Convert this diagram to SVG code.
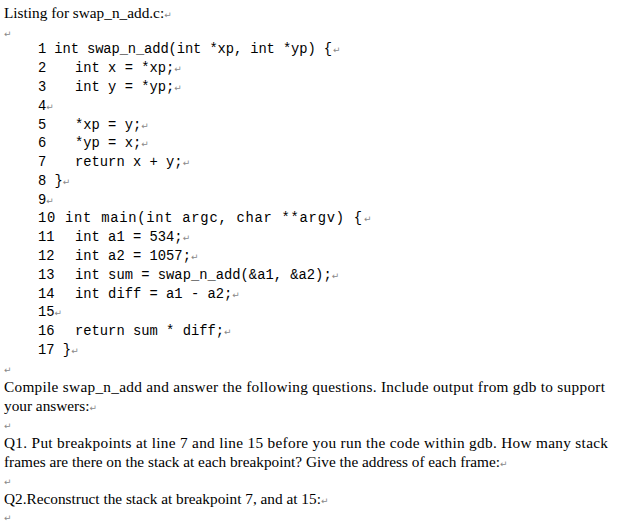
<svg xmlns="http://www.w3.org/2000/svg" width="622" height="525" viewBox="0 0 622 525">
<style>
.t{font-family:"Liberation Serif",serif;font-size:15.3px;fill:#000}
.c{font-family:"Liberation Mono","DejaVu Sans Mono",monospace;font-size:13.8px;fill:#000}
.p{font-family:"DejaVu Sans",sans-serif;font-size:9px;fill:#888}
</style>
<rect width="622" height="525" fill="#fff"/>
<g id="header">
<text class="t" x="4" y="18">Listing for swap_n_add.c:<tspan class="p">↵</tspan></text>
<text class="p" x="4" y="37">↵</text>
</g>
<g id="code" class="c">
<text x="38" y="53" textLength="294">1 int swap_n_add(int *xp, int *yp) {</text><text class="p" x="333" y="53">↵</text>
<text x="38" y="72">2</text><text x="75" y="72">int x = *xp;<tspan class="p">↵</tspan></text>
<text x="38" y="91">3</text><text x="75" y="91">int y = *yp;<tspan class="p">↵</tspan></text>
<text x="38" y="110">4<tspan class="p">↵</tspan></text>
<text x="38" y="129">5</text><text x="75" y="129">*xp = y;<tspan class="p">↵</tspan></text>
<text x="38" y="147">6</text><text x="75" y="147">*yp = x;<tspan class="p">↵</tspan></text>
<text x="38" y="166">7</text><text x="75" y="166">return x + y;<tspan class="p">↵</tspan></text>
<text x="38" y="185">8 }<tspan class="p">↵</tspan></text>
<text x="38" y="204">9<tspan class="p">↵</tspan></text>
<text x="38" y="222" textLength="324">10 int main(int argc, char **argv) {</text><text class="p" x="364" y="222">↵</text>
<text x="38" y="241">11</text><text x="75" y="241">int a1 = 534;<tspan class="p">↵</tspan></text>
<text x="38" y="260">12</text><text x="75" y="260">int a2 = 1057;<tspan class="p">↵</tspan></text>
<text x="38" y="279">13</text><text x="75" y="279">int sum = swap_n_add(&amp;a1, &amp;a2);<tspan class="p">↵</tspan></text>
<text x="38" y="298">14</text><text x="75" y="298">int diff = a1 - a2;<tspan class="p">↵</tspan></text>
<text x="38" y="316">15<tspan class="p">↵</tspan></text>
<text x="38" y="335">16</text><text x="75" y="335">return sum * diff;<tspan class="p">↵</tspan></text>
<text x="38" y="354">17 }<tspan class="p">↵</tspan></text>
</g>
<g id="questions">
<text class="p" x="4" y="373">↵</text>
<text class="t" x="4" y="392" textLength="601">Compile swap_n_add and answer the following questions. Include output from gdb to support</text>
<text class="t" x="4" y="411">your answers:<tspan class="p">↵</tspan></text>
<text class="p" x="4" y="429">↵</text>
<text class="t" x="4" y="448" textLength="604">Q1. Put breakpoints at line 7 and line 15 before you run the code within gdb.  How many stack</text>
<text class="t" x="4" y="467">frames are there on the stack at each breakpoint? Give the address of each frame:<tspan class="p">↵</tspan></text>
<text class="p" x="4" y="485">↵</text>
<text class="t" x="4" y="504">Q2.Reconstruct the stack at breakpoint 7, and at 15:<tspan class="p">↵</tspan></text>
<text class="p" x="4" y="521">↵</text>
</g>
</svg>
